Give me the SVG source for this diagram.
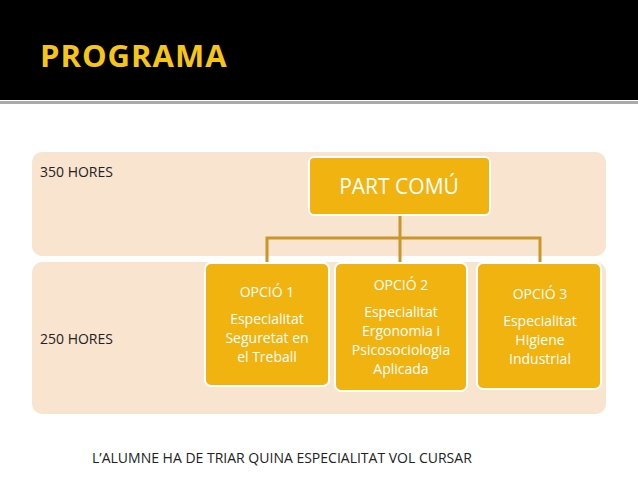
<svg xmlns="http://www.w3.org/2000/svg" width="638" height="478" viewBox="0 0 638 478">
<style>
.band{fill:#f9e4d0}
.box{fill:#f0b310;stroke:#fff;stroke-width:2}
.t{font-family:"Open Sans","DejaVu Sans",sans-serif;fill:#fff;text-anchor:middle}
.lbl{font-family:"Open Sans","DejaVu Sans",sans-serif;fill:#222;font-size:14px}
.c{fill:none;stroke:#c9962a;stroke-width:3}
</style>
<rect width="638" height="478" fill="#fff"/>
<rect width="638" height="100" fill="#000"/>
<rect y="101" width="638" height="3" fill="#aaa"/>
<text x="40" y="67" font-family="Open Sans, DejaVu Sans, sans-serif" font-weight="bold" font-size="31" fill="#f5c518" letter-spacing="1">PROGRAMA</text>
<rect class="band" x="32" y="152" width="574" height="104" rx="10"/>
<rect class="band" x="32" y="262" width="574" height="152" rx="10"/>
<text class="lbl" x="40" y="177">350 HORES</text>
<text class="lbl" x="40" y="344">250 HORES</text>
<g id="connectors">
<path class="c" d="M400 215V238M267 262V238H540V262M400 238V262"/>
</g>
<g id="part-comu"><rect class="box" x="309" y="157" width="181" height="58" rx="5"/><text class="t" x="399" y="194" font-size="21">PART COMÚ</text></g>
<g id="opcio1"><rect class="box" x="205" y="263" width="124" height="123" rx="6"/>
<text class="t" font-size="14" x="267" y="297">OPCIÓ 1</text>
<text class="t" font-size="14"><tspan x="267" y="324">Especialitat</tspan><tspan x="267" y="343">Seguretat en</tspan><tspan x="267" y="362">el Treball</tspan></text></g>
<g id="opcio2"><rect class="box" x="335" y="263" width="132" height="128" rx="6"/>
<text class="t" font-size="14" x="401" y="290">OPCIÓ 2</text>
<text class="t" font-size="14"><tspan x="401" y="317">Especialitat</tspan><tspan x="401" y="336">Ergonomia i</tspan><tspan x="401" y="355">Psicosociologia</tspan><tspan x="401" y="374">Aplicada</tspan></text></g>
<g id="opcio3"><rect class="box" x="477" y="263" width="124" height="126" rx="6"/>
<text class="t" font-size="14" x="540" y="299">OPCIÓ 3</text>
<text class="t" font-size="14"><tspan x="540" y="326">Especialitat</tspan><tspan x="540" y="345">Higiene</tspan><tspan x="540" y="364">Industrial</tspan></text></g>
<text class="lbl" x="92" y="463" font-size="13">L’ALUMNE HA DE TRIAR QUINA ESPECIALITAT VOL CURSAR</text>
</svg>
